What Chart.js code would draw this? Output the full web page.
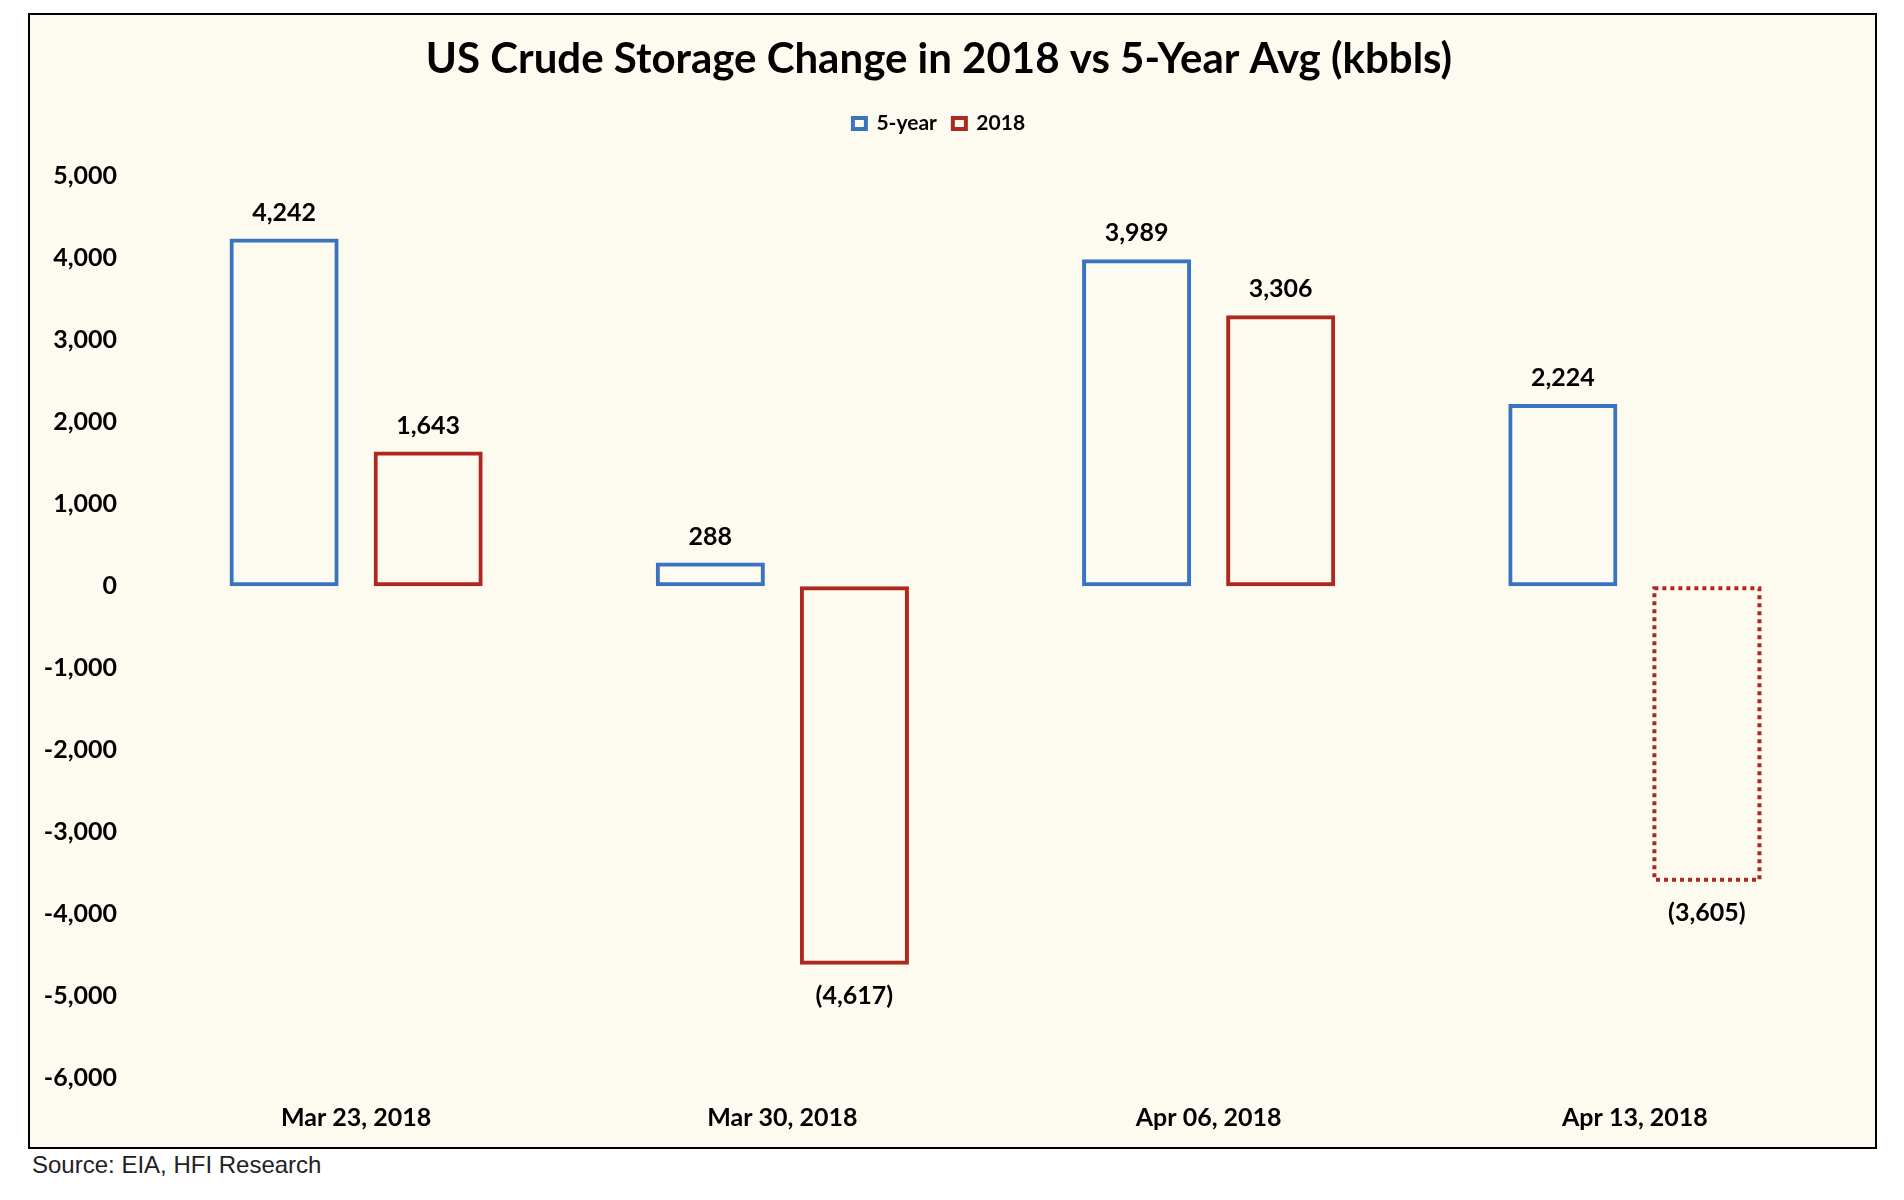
<!DOCTYPE html>
<html>
<head>
<meta charset="utf-8">
<title>US Crude Storage Change in 2018 vs 5-Year Avg (kbbls)</title>
<script src="https://cdn.jsdelivr.net/npm/chart.js@4.4.1/dist/chart.umd.min.js"></script>
<style>
    html, body { margin: 0; padding: 0; background: #fff; }
    #frame {
        position: absolute; left: 28px; top: 13px;
        width: 1845px; height: 1132px;
        border: 2px solid #000; background: #fdfaef;
    }
    #source {
        position: absolute; left: 32px; top: 1151px;
        font: 24px "Liberation Sans", Arial, sans-serif;
        line-height: 28px; color: #222;
    }
</style>
</head>
<body>
<div id="frame"><canvas id="storageChart"></canvas></div>
<div id="source">Source: EIA, HFI Research</div>

<script>
// Weekly crude storage change (kbbls)
const weeks = ['Mar 23, 2018', 'Mar 30, 2018', 'Apr 06, 2018', 'Apr 13, 2018'];
const fiveYearAvg = [4242, 288, 3989, 2224];
const change2018 = [1643, -4617, 3306, -3605];
const dotted2018 = [false, false, false, true]; // latest week drawn dotted
const yTicksMin = -6000;
const yTicksMax = 5000;
const yTicksStep = 1000;

const BLUE = '#3a74c0';
const RED = '#ae281f';
const FONT = 'Lato, "Open Sans", sans-serif';

const fmt = v => Math.abs(v).toLocaleString('en-US');

/**
 * Leave room under the legend so the plot starts where the reference does
 */
const legendRoom = {
    id: 'legendRoom',
    beforeInit(chart) {
        const legend = chart.legend;
        const origFit = legend.fit;
        legend.fit = function() {
            origFit.call(this);
            this.height = 79.5;
        };
    }
};

/**
 * Value labels and the dotted outline for the estimated bar
 */
const barExtras = {
    id: 'barExtras',
    afterDatasetsDraw(chart) {
        const ctx = chart.ctx;
        ctx.save();
        chart.data.datasets.forEach((ds, di) => {
            const meta = chart.getDatasetMeta(di);
            meta.data.forEach((bar, i) => {
                const v = ds.data[i];
                const { x, y, base, width } = bar.getProps(['x', 'y', 'base', 'width'], true);

                if (ds.dotted && ds.dotted[i]) {
                    const lw = 4;
                    const top = Math.min(y, base);
                    const bottom = Math.max(y, base);
                    ctx.strokeStyle = ds.lineColor;
                    ctx.lineWidth = lw;
                    ctx.setLineDash([4, 4]);
                    ctx.strokeRect(x - width / 2 + lw / 2, top + lw / 2, width - lw, bottom - top - lw);
                    ctx.setLineDash([]);
                }

                ctx.fillStyle = '#000';
                ctx.font = 'bold 25px ' + FONT;
                ctx.textAlign = 'center';
                ctx.textBaseline = 'middle';
                if (v >= 0) {
                    ctx.fillText(fmt(v), x, y - 26);
                } else {
                    ctx.fillText('(' + fmt(v) + ')', x, y + 31);
                }
            });
        });
        ctx.restore();
    }
};

new Chart(document.getElementById('storageChart'), {
    type: 'bar',
    data: {
        labels: weeks,
        datasets: [{
            label: '5-year',
            data: fiveYearAvg,
            backgroundColor: 'rgba(0,0,0,0)',
            borderColor: BLUE,
            lineColor: BLUE,
            borderWidth: 4,
            borderSkipped: false
        }, {
            label: '2018',
            data: change2018,
            dotted: dotted2018,
            backgroundColor: 'rgba(0,0,0,0)',
            borderColor: ctx => (ctx.dataIndex !== undefined && dotted2018[ctx.dataIndex]) ? 'rgba(0,0,0,0)' : RED,
            lineColor: RED,
            borderWidth: 4,
            borderSkipped: false
        }]
    },
    options: {
        responsive: true,
        maintainAspectRatio: false,
        animation: false,
        events: [],
        categoryPercentage: 0.676,
        barPercentage: 0.757,
        layout: {
            padding: { top: 0, right: 27, bottom: 0, left: 0 }
        },
        plugins: {
            title: {
                display: true,
                text: 'US Crude Storage Change in 2018 vs 5-Year Avg (kbbls)',
                color: '#000',
                font: { family: FONT, size: 42, weight: 'bold' },
                padding: { top: 19, bottom: 12.5 }
            },
            legend: {
                display: true,
                labels: {
                    color: '#000',
                    font: { family: FONT, size: 21, weight: 'bold' },
                    boxWidth: 13,
                    boxHeight: 11,
                    padding: 16
                }
            },
            tooltip: { enabled: false }
        },
        scales: {
            x: {
                grid: { display: false, drawTicks: false },
                border: { display: false },
                ticks: {
                    color: '#000',
                    padding: 25,
                    font: { family: FONT, size: 25, weight: 'bold' }
                },
                afterFit(scale) {
                    scale.height = 69;
                }
            },
            y: {
                min: yTicksMin,
                max: yTicksMax,
                grid: { display: false, drawTicks: false },
                border: { display: false },
                ticks: {
                    stepSize: yTicksStep,
                    color: '#000',
                    padding: 26,
                    font: { family: FONT, size: 25, weight: 'bold' },
                    callback: value => value.toLocaleString('en-US')
                },
                afterFit(scale) {
                    scale.width = 113;
                }
            }
        }
    },
    plugins: [legendRoom, barExtras]
});
</script>
</body>
</html>
